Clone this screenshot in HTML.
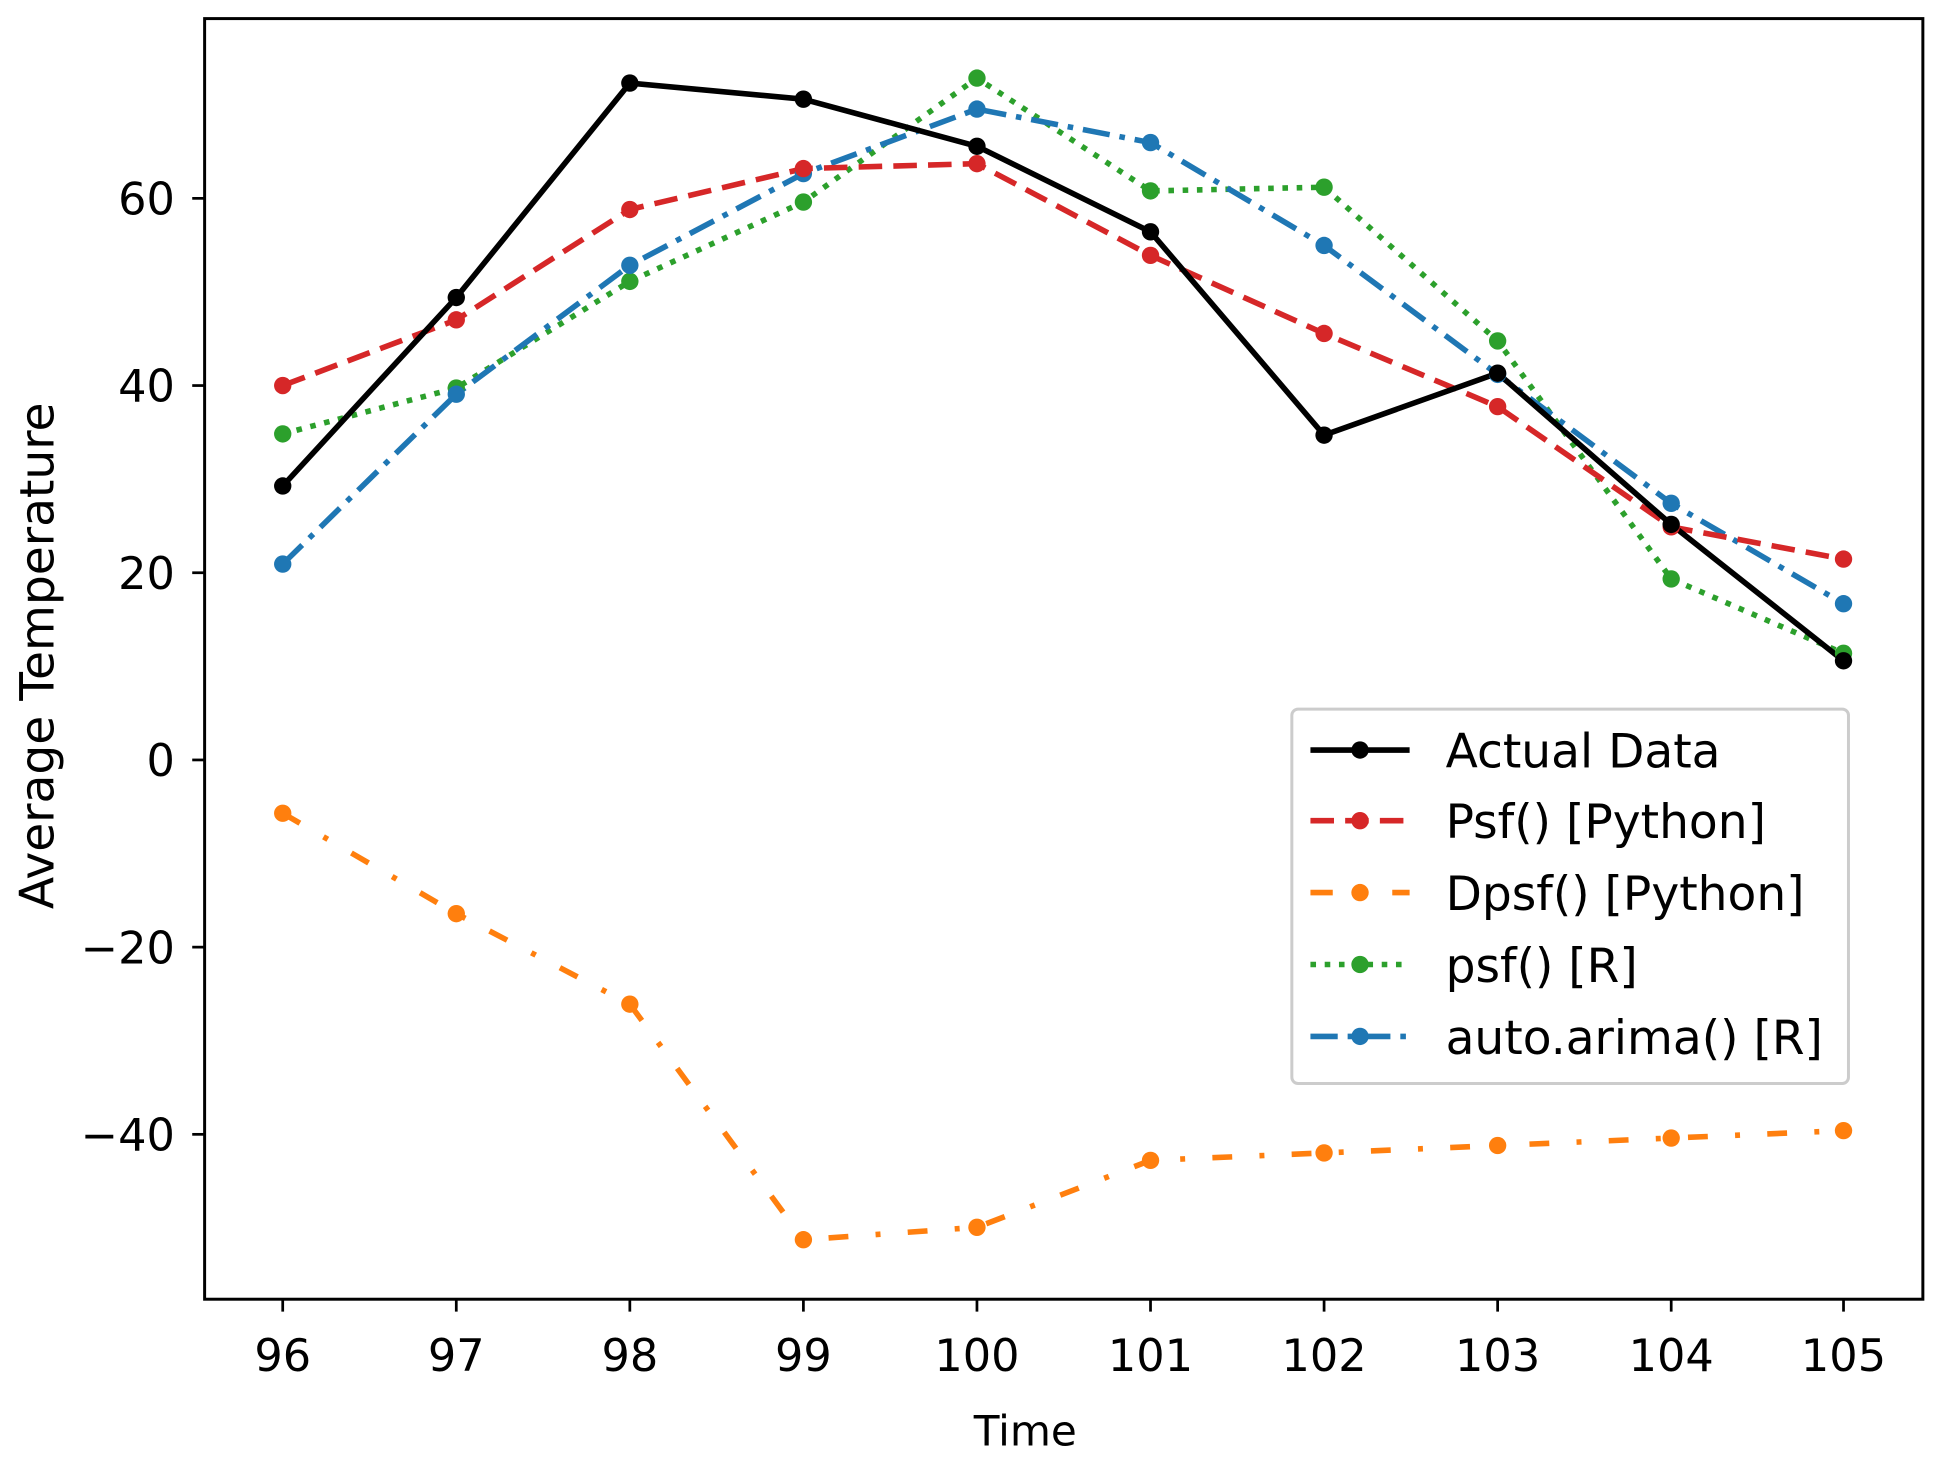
<!DOCTYPE html>
<html><head><meta charset="utf-8"><style>html,body{margin:0;padding:0;background:#fff}svg{display:block}</style></head>
<body>
<svg width="1944" height="1461" viewBox="0 0 1568 1178.5" xmlns="http://www.w3.org/2000/svg" font-family="'DejaVu Sans', 'Liberation Sans', sans-serif">
<rect width="1568" height="1180" fill="#fff"/>
<g fill="none" stroke-width="4.5" stroke-linejoin="round">
<polyline stroke="#ff7f0e" stroke-dasharray="16 22 4 22" points="228,656 368,737 508,810 648,1000 788,990 928,936 1068,930 1208,924 1348,918 1487,912"/>
<polyline stroke="#2ca02c" stroke-dasharray="4.5 7" points="228,350 368,313 508,227 648,163 788,63 928,154 1068,151 1208,275 1348,467 1487,527"/>
<polyline stroke="#1f77b4" stroke-dasharray="22 8 4.5 8" points="228,455 368,318 508,214 648,140 788,88 928,115 1068,198 1208,302 1348,406 1487,487"/>
<polyline stroke="#d62728" stroke-dasharray="19 9" points="228,311 368,258 508,169 648,136 788,132 928,206 1068,269 1208,328 1348,425 1487,451"/>
<polyline stroke="#000" points="228,392 368,240 508,67 648,80 788,118 928,187 1068,351 1208,301 1348,423 1487,533"/>
</g>
<g fill="#ff7f0e"><circle cx="228" cy="656" r="7"/><circle cx="368" cy="737" r="7"/><circle cx="508" cy="810" r="7"/><circle cx="648" cy="1000" r="7"/><circle cx="788" cy="990" r="7"/><circle cx="928" cy="936" r="7"/><circle cx="1068" cy="930" r="7"/><circle cx="1208" cy="924" r="7"/><circle cx="1348" cy="918" r="7"/><circle cx="1487" cy="912" r="7"/></g>
<g fill="#2ca02c"><circle cx="228" cy="350" r="7"/><circle cx="368" cy="313" r="7"/><circle cx="508" cy="227" r="7"/><circle cx="648" cy="163" r="7"/><circle cx="788" cy="63" r="7"/><circle cx="928" cy="154" r="7"/><circle cx="1068" cy="151" r="7"/><circle cx="1208" cy="275" r="7"/><circle cx="1348" cy="467" r="7"/><circle cx="1487" cy="527" r="7"/></g>
<g fill="#1f77b4"><circle cx="228" cy="455" r="7"/><circle cx="368" cy="318" r="7"/><circle cx="508" cy="214" r="7"/><circle cx="648" cy="140" r="7"/><circle cx="788" cy="88" r="7"/><circle cx="928" cy="115" r="7"/><circle cx="1068" cy="198" r="7"/><circle cx="1208" cy="302" r="7"/><circle cx="1348" cy="406" r="7"/><circle cx="1487" cy="487" r="7"/></g>
<g fill="#d62728"><circle cx="228" cy="311" r="7"/><circle cx="368" cy="258" r="7"/><circle cx="508" cy="169" r="7"/><circle cx="648" cy="136" r="7"/><circle cx="788" cy="132" r="7"/><circle cx="928" cy="206" r="7"/><circle cx="1068" cy="269" r="7"/><circle cx="1208" cy="328" r="7"/><circle cx="1348" cy="425" r="7"/><circle cx="1487" cy="451" r="7"/></g>
<g fill="#000"><circle cx="228" cy="392" r="7"/><circle cx="368" cy="240" r="7"/><circle cx="508" cy="67" r="7"/><circle cx="648" cy="80" r="7"/><circle cx="788" cy="118" r="7"/><circle cx="928" cy="187" r="7"/><circle cx="1068" cy="351" r="7"/><circle cx="1208" cy="301" r="7"/><circle cx="1348" cy="423" r="7"/><circle cx="1487" cy="533" r="7"/></g>
<rect x="165" y="15" width="1386" height="1033" fill="none" stroke="#000" stroke-width="2.4"/>
<g stroke="#000" stroke-width="2.2">
<line x1="228" y1="1048" x2="228" y2="1058"/><line x1="368" y1="1048" x2="368" y2="1058"/><line x1="508" y1="1048" x2="508" y2="1058"/><line x1="648" y1="1048" x2="648" y2="1058"/><line x1="788" y1="1048" x2="788" y2="1058"/><line x1="928" y1="1048" x2="928" y2="1058"/><line x1="1068" y1="1048" x2="1068" y2="1058"/><line x1="1208" y1="1048" x2="1208" y2="1058"/><line x1="1348" y1="1048" x2="1348" y2="1058"/><line x1="1487" y1="1048" x2="1487" y2="1058"/>
<line x1="155" y1="160" x2="165" y2="160"/><line x1="155" y1="311" x2="165" y2="311"/><line x1="155" y1="462" x2="165" y2="462"/><line x1="155" y1="613" x2="165" y2="613"/><line x1="155" y1="764" x2="165" y2="764"/><line x1="155" y1="915" x2="165" y2="915"/>
</g>
<g font-size="36" fill="#000" text-anchor="middle">
<text x="228" y="1106">96</text><text x="368" y="1106">97</text><text x="508" y="1106">98</text><text x="648" y="1106">99</text><text x="788" y="1106">100</text><text x="928" y="1106">101</text><text x="1068" y="1106">102</text><text x="1208" y="1106">103</text><text x="1348" y="1106">104</text><text x="1487" y="1106">105</text>
</g>
<g font-size="36" fill="#000" text-anchor="end">
<text x="141" y="173">60</text><text x="141" y="324">40</text><text x="141" y="475">20</text><text x="141" y="626">0</text><text x="141" y="777">−20</text><text x="141" y="928">−40</text>
</g>
<text x="827" y="1166" font-size="34" text-anchor="middle">Time</text>
<text transform="translate(43,529) rotate(-90)" font-size="38" text-anchor="middle">Average Temperature</text>
<rect x="1042" y="572" width="449" height="302" rx="5" fill="#fff" fill-opacity="0.8" stroke="#ccc" stroke-width="2.4"/>
<g stroke-width="4.5" fill="none">
<line x1="1057" y1="605" x2="1137" y2="605" stroke="#000"/>
<line x1="1057" y1="662" x2="1137" y2="662" stroke="#d62728" stroke-dasharray="19 9"/>
<line x1="1057" y1="720" x2="1137" y2="720" stroke="#ff7f0e" stroke-dasharray="18 22 4 22"/>
<line x1="1057" y1="778" x2="1137" y2="778" stroke="#2ca02c" stroke-dasharray="4.5 7"/>
<line x1="1057" y1="836" x2="1137" y2="836" stroke="#1f77b4" stroke-dasharray="22 8 4.5 8"/>
</g>
<circle cx="1097" cy="605" r="7" fill="#000"/><circle cx="1097" cy="662" r="7" fill="#d62728"/><circle cx="1097" cy="720" r="7" fill="#ff7f0e"/><circle cx="1097" cy="778" r="7" fill="#2ca02c"/><circle cx="1097" cy="836" r="7" fill="#1f77b4"/>
<g font-size="38" fill="#000">
<text x="1166" y="619">Actual Data</text><text x="1166" y="676">Psf() [Python]</text><text x="1166" y="734">Dpsf() [Python]</text><text x="1166" y="792">psf() [R]</text><text x="1166" y="850">auto.arima() [R]</text>
</g>
</svg>
</body></html>
